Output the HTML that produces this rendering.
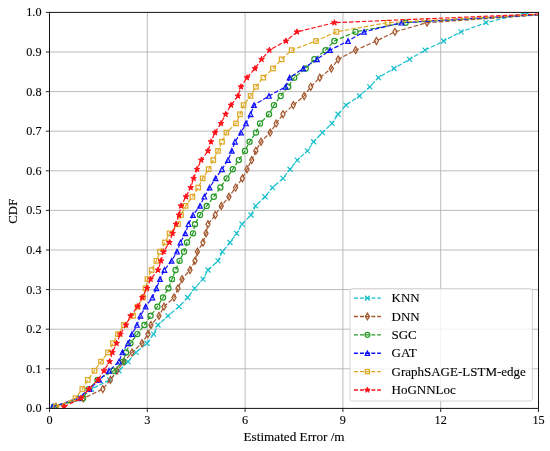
<!DOCTYPE html>
<html><head><meta charset="utf-8"><title>CDF of Estimated Error</title>
<style>html,body{margin:0;padding:0;background:#fff}body{width:550px;height:451px;overflow:hidden}</style>
</head><body>
<svg width="550" height="451" viewBox="0 0 550 451" style="display:block">
<rect x="0" y="0" width="550" height="451" fill="#fff"/>
<defs><clipPath id="ax"><rect x="49.5" y="12.4" width="489.0" height="396.0"/></clipPath></defs>
<path d="M147.30 12.4V408.4M245.10 12.4V408.4M342.90 12.4V408.4M440.70 12.4V408.4M49.5 368.80H538.5M49.5 329.20H538.5M49.5 289.60H538.5M49.5 250.00H538.5M49.5 210.40H538.5M49.5 170.80H538.5M49.5 131.20H538.5M49.5 91.60H538.5M49.5 52.00H538.5" stroke="#b4b4b4" stroke-width="0.9" fill="none"/>
<g clip-path="url(#ax)">
<polyline points="54.00,406.80 81.00,398.24 91.50,389.08 109.60,379.92 119.00,370.76 128.00,361.60 136.00,352.44 147.00,343.28 153.60,334.12 158.00,324.96 168.00,315.80 179.00,306.64 187.60,297.48 194.60,288.32 203.00,279.16 208.00,270.00 218.00,260.84 222.40,251.68 230.00,242.52 236.60,233.36 242.00,224.20 251.00,215.04 255.60,205.88 265.00,196.72 272.50,187.56 283.00,178.40 290.00,169.24 297.30,160.08 307.40,150.92 313.60,141.76 322.40,132.60 332.00,123.44 338.00,114.28 346.00,105.12 359.50,95.96 369.80,86.80 378.40,77.64 394.00,68.48 409.60,59.32 425.00,50.16 443.60,41.00 461.00,31.84 486.00,22.68 527.00,12.50" fill="none" stroke="#14bfcc" stroke-width="1.2" stroke-dasharray="4.5 1.9"/>
<g><path d="M51.50 404.30L56.50 409.30M51.50 409.30L56.50 404.30" stroke="#14bfcc" stroke-width="1.2" fill="none"/><path d="M78.50 395.74L83.50 400.74M78.50 400.74L83.50 395.74" stroke="#14bfcc" stroke-width="1.2" fill="none"/><path d="M89.00 386.58L94.00 391.58M89.00 391.58L94.00 386.58" stroke="#14bfcc" stroke-width="1.2" fill="none"/><path d="M107.10 377.42L112.10 382.42M107.10 382.42L112.10 377.42" stroke="#14bfcc" stroke-width="1.2" fill="none"/><path d="M116.50 368.26L121.50 373.26M116.50 373.26L121.50 368.26" stroke="#14bfcc" stroke-width="1.2" fill="none"/><path d="M125.50 359.10L130.50 364.10M125.50 364.10L130.50 359.10" stroke="#14bfcc" stroke-width="1.2" fill="none"/><path d="M133.50 349.94L138.50 354.94M133.50 354.94L138.50 349.94" stroke="#14bfcc" stroke-width="1.2" fill="none"/><path d="M144.50 340.78L149.50 345.78M144.50 345.78L149.50 340.78" stroke="#14bfcc" stroke-width="1.2" fill="none"/><path d="M151.10 331.62L156.10 336.62M151.10 336.62L156.10 331.62" stroke="#14bfcc" stroke-width="1.2" fill="none"/><path d="M155.50 322.46L160.50 327.46M155.50 327.46L160.50 322.46" stroke="#14bfcc" stroke-width="1.2" fill="none"/><path d="M165.50 313.30L170.50 318.30M165.50 318.30L170.50 313.30" stroke="#14bfcc" stroke-width="1.2" fill="none"/><path d="M176.50 304.14L181.50 309.14M176.50 309.14L181.50 304.14" stroke="#14bfcc" stroke-width="1.2" fill="none"/><path d="M185.10 294.98L190.10 299.98M185.10 299.98L190.10 294.98" stroke="#14bfcc" stroke-width="1.2" fill="none"/><path d="M192.10 285.82L197.10 290.82M192.10 290.82L197.10 285.82" stroke="#14bfcc" stroke-width="1.2" fill="none"/><path d="M200.50 276.66L205.50 281.66M200.50 281.66L205.50 276.66" stroke="#14bfcc" stroke-width="1.2" fill="none"/><path d="M205.50 267.50L210.50 272.50M205.50 272.50L210.50 267.50" stroke="#14bfcc" stroke-width="1.2" fill="none"/><path d="M215.50 258.34L220.50 263.34M215.50 263.34L220.50 258.34" stroke="#14bfcc" stroke-width="1.2" fill="none"/><path d="M219.90 249.18L224.90 254.18M219.90 254.18L224.90 249.18" stroke="#14bfcc" stroke-width="1.2" fill="none"/><path d="M227.50 240.02L232.50 245.02M227.50 245.02L232.50 240.02" stroke="#14bfcc" stroke-width="1.2" fill="none"/><path d="M234.10 230.86L239.10 235.86M234.10 235.86L239.10 230.86" stroke="#14bfcc" stroke-width="1.2" fill="none"/><path d="M239.50 221.70L244.50 226.70M239.50 226.70L244.50 221.70" stroke="#14bfcc" stroke-width="1.2" fill="none"/><path d="M248.50 212.54L253.50 217.54M248.50 217.54L253.50 212.54" stroke="#14bfcc" stroke-width="1.2" fill="none"/><path d="M253.10 203.38L258.10 208.38M253.10 208.38L258.10 203.38" stroke="#14bfcc" stroke-width="1.2" fill="none"/><path d="M262.50 194.22L267.50 199.22M262.50 199.22L267.50 194.22" stroke="#14bfcc" stroke-width="1.2" fill="none"/><path d="M270.00 185.06L275.00 190.06M270.00 190.06L275.00 185.06" stroke="#14bfcc" stroke-width="1.2" fill="none"/><path d="M280.50 175.90L285.50 180.90M280.50 180.90L285.50 175.90" stroke="#14bfcc" stroke-width="1.2" fill="none"/><path d="M287.50 166.74L292.50 171.74M287.50 171.74L292.50 166.74" stroke="#14bfcc" stroke-width="1.2" fill="none"/><path d="M294.80 157.58L299.80 162.58M294.80 162.58L299.80 157.58" stroke="#14bfcc" stroke-width="1.2" fill="none"/><path d="M304.90 148.42L309.90 153.42M304.90 153.42L309.90 148.42" stroke="#14bfcc" stroke-width="1.2" fill="none"/><path d="M311.10 139.26L316.10 144.26M311.10 144.26L316.10 139.26" stroke="#14bfcc" stroke-width="1.2" fill="none"/><path d="M319.90 130.10L324.90 135.10M319.90 135.10L324.90 130.10" stroke="#14bfcc" stroke-width="1.2" fill="none"/><path d="M329.50 120.94L334.50 125.94M329.50 125.94L334.50 120.94" stroke="#14bfcc" stroke-width="1.2" fill="none"/><path d="M335.50 111.78L340.50 116.78M335.50 116.78L340.50 111.78" stroke="#14bfcc" stroke-width="1.2" fill="none"/><path d="M343.50 102.62L348.50 107.62M343.50 107.62L348.50 102.62" stroke="#14bfcc" stroke-width="1.2" fill="none"/><path d="M357.00 93.46L362.00 98.46M357.00 98.46L362.00 93.46" stroke="#14bfcc" stroke-width="1.2" fill="none"/><path d="M367.30 84.30L372.30 89.30M367.30 89.30L372.30 84.30" stroke="#14bfcc" stroke-width="1.2" fill="none"/><path d="M375.90 75.14L380.90 80.14M375.90 80.14L380.90 75.14" stroke="#14bfcc" stroke-width="1.2" fill="none"/><path d="M391.50 65.98L396.50 70.98M391.50 70.98L396.50 65.98" stroke="#14bfcc" stroke-width="1.2" fill="none"/><path d="M407.10 56.82L412.10 61.82M407.10 61.82L412.10 56.82" stroke="#14bfcc" stroke-width="1.2" fill="none"/><path d="M422.50 47.66L427.50 52.66M422.50 52.66L427.50 47.66" stroke="#14bfcc" stroke-width="1.2" fill="none"/><path d="M441.10 38.50L446.10 43.50M441.10 43.50L446.10 38.50" stroke="#14bfcc" stroke-width="1.2" fill="none"/><path d="M458.50 29.34L463.50 34.34M458.50 34.34L463.50 29.34" stroke="#14bfcc" stroke-width="1.2" fill="none"/><path d="M483.50 20.18L488.50 25.18M483.50 25.18L488.50 20.18" stroke="#14bfcc" stroke-width="1.2" fill="none"/><path d="M524.50 10.00L529.50 15.00M524.50 15.00L529.50 10.00" stroke="#14bfcc" stroke-width="1.2" fill="none"/></g>
<polyline points="56.00,406.80 83.50,398.24 102.80,389.08 110.40,379.92 117.00,370.76 124.00,361.60 132.00,352.44 142.00,343.28 148.00,334.12 151.00,324.96 159.00,315.80 164.00,306.64 174.00,297.48 178.00,288.32 182.00,279.16 190.00,270.00 195.00,260.84 197.40,251.68 203.00,242.52 206.00,233.36 208.00,224.20 215.30,215.04 221.30,205.88 229.00,196.72 235.60,187.56 242.40,178.40 247.00,169.24 251.70,160.08 255.80,150.92 261.00,141.76 270.20,132.60 276.20,123.44 283.00,114.28 293.30,105.12 304.20,95.96 310.70,86.80 319.80,77.64 331.30,68.48 338.20,59.32 355.60,50.16 376.40,41.00 395.00,31.84 427.00,22.68 575.00,12.50" fill="none" stroke="#a3562c" stroke-width="1.2" stroke-dasharray="4.5 1.9"/>
<g><path d="M56.00 403.30L58.10 406.80L56.00 410.30L53.90 406.80Z" stroke="#a3562c" stroke-width="1.2" fill="none" stroke-linejoin="miter"/><path d="M83.50 394.74L85.60 398.24L83.50 401.74L81.40 398.24Z" stroke="#a3562c" stroke-width="1.2" fill="none" stroke-linejoin="miter"/><path d="M102.80 385.58L104.90 389.08L102.80 392.58L100.70 389.08Z" stroke="#a3562c" stroke-width="1.2" fill="none" stroke-linejoin="miter"/><path d="M110.40 376.42L112.50 379.92L110.40 383.42L108.30 379.92Z" stroke="#a3562c" stroke-width="1.2" fill="none" stroke-linejoin="miter"/><path d="M117.00 367.26L119.10 370.76L117.00 374.26L114.90 370.76Z" stroke="#a3562c" stroke-width="1.2" fill="none" stroke-linejoin="miter"/><path d="M124.00 358.10L126.10 361.60L124.00 365.10L121.90 361.60Z" stroke="#a3562c" stroke-width="1.2" fill="none" stroke-linejoin="miter"/><path d="M132.00 348.94L134.10 352.44L132.00 355.94L129.90 352.44Z" stroke="#a3562c" stroke-width="1.2" fill="none" stroke-linejoin="miter"/><path d="M142.00 339.78L144.10 343.28L142.00 346.78L139.90 343.28Z" stroke="#a3562c" stroke-width="1.2" fill="none" stroke-linejoin="miter"/><path d="M148.00 330.62L150.10 334.12L148.00 337.62L145.90 334.12Z" stroke="#a3562c" stroke-width="1.2" fill="none" stroke-linejoin="miter"/><path d="M151.00 321.46L153.10 324.96L151.00 328.46L148.90 324.96Z" stroke="#a3562c" stroke-width="1.2" fill="none" stroke-linejoin="miter"/><path d="M159.00 312.30L161.10 315.80L159.00 319.30L156.90 315.80Z" stroke="#a3562c" stroke-width="1.2" fill="none" stroke-linejoin="miter"/><path d="M164.00 303.14L166.10 306.64L164.00 310.14L161.90 306.64Z" stroke="#a3562c" stroke-width="1.2" fill="none" stroke-linejoin="miter"/><path d="M174.00 293.98L176.10 297.48L174.00 300.98L171.90 297.48Z" stroke="#a3562c" stroke-width="1.2" fill="none" stroke-linejoin="miter"/><path d="M178.00 284.82L180.10 288.32L178.00 291.82L175.90 288.32Z" stroke="#a3562c" stroke-width="1.2" fill="none" stroke-linejoin="miter"/><path d="M182.00 275.66L184.10 279.16L182.00 282.66L179.90 279.16Z" stroke="#a3562c" stroke-width="1.2" fill="none" stroke-linejoin="miter"/><path d="M190.00 266.50L192.10 270.00L190.00 273.50L187.90 270.00Z" stroke="#a3562c" stroke-width="1.2" fill="none" stroke-linejoin="miter"/><path d="M195.00 257.34L197.10 260.84L195.00 264.34L192.90 260.84Z" stroke="#a3562c" stroke-width="1.2" fill="none" stroke-linejoin="miter"/><path d="M197.40 248.18L199.50 251.68L197.40 255.18L195.30 251.68Z" stroke="#a3562c" stroke-width="1.2" fill="none" stroke-linejoin="miter"/><path d="M203.00 239.02L205.10 242.52L203.00 246.02L200.90 242.52Z" stroke="#a3562c" stroke-width="1.2" fill="none" stroke-linejoin="miter"/><path d="M206.00 229.86L208.10 233.36L206.00 236.86L203.90 233.36Z" stroke="#a3562c" stroke-width="1.2" fill="none" stroke-linejoin="miter"/><path d="M208.00 220.70L210.10 224.20L208.00 227.70L205.90 224.20Z" stroke="#a3562c" stroke-width="1.2" fill="none" stroke-linejoin="miter"/><path d="M215.30 211.54L217.40 215.04L215.30 218.54L213.20 215.04Z" stroke="#a3562c" stroke-width="1.2" fill="none" stroke-linejoin="miter"/><path d="M221.30 202.38L223.40 205.88L221.30 209.38L219.20 205.88Z" stroke="#a3562c" stroke-width="1.2" fill="none" stroke-linejoin="miter"/><path d="M229.00 193.22L231.10 196.72L229.00 200.22L226.90 196.72Z" stroke="#a3562c" stroke-width="1.2" fill="none" stroke-linejoin="miter"/><path d="M235.60 184.06L237.70 187.56L235.60 191.06L233.50 187.56Z" stroke="#a3562c" stroke-width="1.2" fill="none" stroke-linejoin="miter"/><path d="M242.40 174.90L244.50 178.40L242.40 181.90L240.30 178.40Z" stroke="#a3562c" stroke-width="1.2" fill="none" stroke-linejoin="miter"/><path d="M247.00 165.74L249.10 169.24L247.00 172.74L244.90 169.24Z" stroke="#a3562c" stroke-width="1.2" fill="none" stroke-linejoin="miter"/><path d="M251.70 156.58L253.80 160.08L251.70 163.58L249.60 160.08Z" stroke="#a3562c" stroke-width="1.2" fill="none" stroke-linejoin="miter"/><path d="M255.80 147.42L257.90 150.92L255.80 154.42L253.70 150.92Z" stroke="#a3562c" stroke-width="1.2" fill="none" stroke-linejoin="miter"/><path d="M261.00 138.26L263.10 141.76L261.00 145.26L258.90 141.76Z" stroke="#a3562c" stroke-width="1.2" fill="none" stroke-linejoin="miter"/><path d="M270.20 129.10L272.30 132.60L270.20 136.10L268.10 132.60Z" stroke="#a3562c" stroke-width="1.2" fill="none" stroke-linejoin="miter"/><path d="M276.20 119.94L278.30 123.44L276.20 126.94L274.10 123.44Z" stroke="#a3562c" stroke-width="1.2" fill="none" stroke-linejoin="miter"/><path d="M283.00 110.78L285.10 114.28L283.00 117.78L280.90 114.28Z" stroke="#a3562c" stroke-width="1.2" fill="none" stroke-linejoin="miter"/><path d="M293.30 101.62L295.40 105.12L293.30 108.62L291.20 105.12Z" stroke="#a3562c" stroke-width="1.2" fill="none" stroke-linejoin="miter"/><path d="M304.20 92.46L306.30 95.96L304.20 99.46L302.10 95.96Z" stroke="#a3562c" stroke-width="1.2" fill="none" stroke-linejoin="miter"/><path d="M310.70 83.30L312.80 86.80L310.70 90.30L308.60 86.80Z" stroke="#a3562c" stroke-width="1.2" fill="none" stroke-linejoin="miter"/><path d="M319.80 74.14L321.90 77.64L319.80 81.14L317.70 77.64Z" stroke="#a3562c" stroke-width="1.2" fill="none" stroke-linejoin="miter"/><path d="M331.30 64.98L333.40 68.48L331.30 71.98L329.20 68.48Z" stroke="#a3562c" stroke-width="1.2" fill="none" stroke-linejoin="miter"/><path d="M338.20 55.82L340.30 59.32L338.20 62.82L336.10 59.32Z" stroke="#a3562c" stroke-width="1.2" fill="none" stroke-linejoin="miter"/><path d="M355.60 46.66L357.70 50.16L355.60 53.66L353.50 50.16Z" stroke="#a3562c" stroke-width="1.2" fill="none" stroke-linejoin="miter"/><path d="M376.40 37.50L378.50 41.00L376.40 44.50L374.30 41.00Z" stroke="#a3562c" stroke-width="1.2" fill="none" stroke-linejoin="miter"/><path d="M395.00 28.34L397.10 31.84L395.00 35.34L392.90 31.84Z" stroke="#a3562c" stroke-width="1.2" fill="none" stroke-linejoin="miter"/><path d="M427.00 19.18L429.10 22.68L427.00 26.18L424.90 22.68Z" stroke="#a3562c" stroke-width="1.2" fill="none" stroke-linejoin="miter"/></g>
<polyline points="54.00,406.80 83.00,398.24 88.50,389.08 97.50,379.92 113.60,370.76 123.00,361.60 126.00,352.44 130.40,343.28 137.40,334.12 144.40,324.96 150.60,315.80 157.40,306.64 163.00,297.48 168.40,288.32 172.00,279.16 175.60,270.00 179.60,260.84 184.00,251.68 187.00,242.52 193.00,233.36 195.00,224.20 200.00,215.04 206.70,205.88 213.80,196.72 220.40,187.56 226.60,178.40 232.80,169.24 238.80,160.08 245.00,150.92 249.60,141.76 256.00,132.60 260.00,123.44 269.00,114.28 274.00,105.12 280.70,95.96 288.20,86.80 294.20,77.64 305.80,68.48 314.40,59.32 325.60,50.16 334.40,41.00 355.60,31.84 405.60,22.68 575.00,12.50" fill="none" stroke="#259a25" stroke-width="1.2" stroke-dasharray="4.5 1.9"/>
<g><circle cx="54.00" cy="406.80" r="2.60" stroke="#259a25" stroke-width="1.2" fill="none"/><circle cx="83.00" cy="398.24" r="2.60" stroke="#259a25" stroke-width="1.2" fill="none"/><circle cx="88.50" cy="389.08" r="2.60" stroke="#259a25" stroke-width="1.2" fill="none"/><circle cx="97.50" cy="379.92" r="2.60" stroke="#259a25" stroke-width="1.2" fill="none"/><circle cx="113.60" cy="370.76" r="2.60" stroke="#259a25" stroke-width="1.2" fill="none"/><circle cx="123.00" cy="361.60" r="2.60" stroke="#259a25" stroke-width="1.2" fill="none"/><circle cx="126.00" cy="352.44" r="2.60" stroke="#259a25" stroke-width="1.2" fill="none"/><circle cx="130.40" cy="343.28" r="2.60" stroke="#259a25" stroke-width="1.2" fill="none"/><circle cx="137.40" cy="334.12" r="2.60" stroke="#259a25" stroke-width="1.2" fill="none"/><circle cx="144.40" cy="324.96" r="2.60" stroke="#259a25" stroke-width="1.2" fill="none"/><circle cx="150.60" cy="315.80" r="2.60" stroke="#259a25" stroke-width="1.2" fill="none"/><circle cx="157.40" cy="306.64" r="2.60" stroke="#259a25" stroke-width="1.2" fill="none"/><circle cx="163.00" cy="297.48" r="2.60" stroke="#259a25" stroke-width="1.2" fill="none"/><circle cx="168.40" cy="288.32" r="2.60" stroke="#259a25" stroke-width="1.2" fill="none"/><circle cx="172.00" cy="279.16" r="2.60" stroke="#259a25" stroke-width="1.2" fill="none"/><circle cx="175.60" cy="270.00" r="2.60" stroke="#259a25" stroke-width="1.2" fill="none"/><circle cx="179.60" cy="260.84" r="2.60" stroke="#259a25" stroke-width="1.2" fill="none"/><circle cx="184.00" cy="251.68" r="2.60" stroke="#259a25" stroke-width="1.2" fill="none"/><circle cx="187.00" cy="242.52" r="2.60" stroke="#259a25" stroke-width="1.2" fill="none"/><circle cx="193.00" cy="233.36" r="2.60" stroke="#259a25" stroke-width="1.2" fill="none"/><circle cx="195.00" cy="224.20" r="2.60" stroke="#259a25" stroke-width="1.2" fill="none"/><circle cx="200.00" cy="215.04" r="2.60" stroke="#259a25" stroke-width="1.2" fill="none"/><circle cx="206.70" cy="205.88" r="2.60" stroke="#259a25" stroke-width="1.2" fill="none"/><circle cx="213.80" cy="196.72" r="2.60" stroke="#259a25" stroke-width="1.2" fill="none"/><circle cx="220.40" cy="187.56" r="2.60" stroke="#259a25" stroke-width="1.2" fill="none"/><circle cx="226.60" cy="178.40" r="2.60" stroke="#259a25" stroke-width="1.2" fill="none"/><circle cx="232.80" cy="169.24" r="2.60" stroke="#259a25" stroke-width="1.2" fill="none"/><circle cx="238.80" cy="160.08" r="2.60" stroke="#259a25" stroke-width="1.2" fill="none"/><circle cx="245.00" cy="150.92" r="2.60" stroke="#259a25" stroke-width="1.2" fill="none"/><circle cx="249.60" cy="141.76" r="2.60" stroke="#259a25" stroke-width="1.2" fill="none"/><circle cx="256.00" cy="132.60" r="2.60" stroke="#259a25" stroke-width="1.2" fill="none"/><circle cx="260.00" cy="123.44" r="2.60" stroke="#259a25" stroke-width="1.2" fill="none"/><circle cx="269.00" cy="114.28" r="2.60" stroke="#259a25" stroke-width="1.2" fill="none"/><circle cx="274.00" cy="105.12" r="2.60" stroke="#259a25" stroke-width="1.2" fill="none"/><circle cx="280.70" cy="95.96" r="2.60" stroke="#259a25" stroke-width="1.2" fill="none"/><circle cx="288.20" cy="86.80" r="2.60" stroke="#259a25" stroke-width="1.2" fill="none"/><circle cx="294.20" cy="77.64" r="2.60" stroke="#259a25" stroke-width="1.2" fill="none"/><circle cx="305.80" cy="68.48" r="2.60" stroke="#259a25" stroke-width="1.2" fill="none"/><circle cx="314.40" cy="59.32" r="2.60" stroke="#259a25" stroke-width="1.2" fill="none"/><circle cx="325.60" cy="50.16" r="2.60" stroke="#259a25" stroke-width="1.2" fill="none"/><circle cx="334.40" cy="41.00" r="2.60" stroke="#259a25" stroke-width="1.2" fill="none"/><circle cx="355.60" cy="31.84" r="2.60" stroke="#259a25" stroke-width="1.2" fill="none"/><circle cx="405.60" cy="22.68" r="2.60" stroke="#259a25" stroke-width="1.2" fill="none"/></g>
<polyline points="52.50,406.80 78.00,398.24 89.50,389.08 99.30,379.92 109.00,370.76 119.00,361.60 122.40,352.44 128.00,343.28 132.00,334.12 137.00,324.96 140.40,315.80 145.60,306.64 152.40,297.48 156.40,288.32 160.00,279.16 164.40,270.00 171.60,260.84 177.00,251.68 180.40,242.52 185.30,233.36 188.50,224.20 193.00,215.04 200.00,205.88 204.40,196.72 209.60,187.56 215.60,178.40 222.00,169.24 228.00,160.08 231.80,150.92 235.00,141.76 241.00,132.60 246.00,123.44 250.60,114.28 254.00,105.12 269.00,95.96 285.60,86.80 289.60,77.64 303.30,68.48 317.00,59.32 330.00,50.16 348.00,41.00 364.00,31.84 401.60,22.68 575.00,12.50" fill="none" stroke="#1010ff" stroke-width="1.2" stroke-dasharray="4.5 1.9"/>
<g><path d="M52.50 404.50L54.80 409.10L50.20 409.10Z" stroke="#1010ff" stroke-width="1.2" fill="none"/><path d="M78.00 395.94L80.30 400.54L75.70 400.54Z" stroke="#1010ff" stroke-width="1.2" fill="none"/><path d="M89.50 386.78L91.80 391.38L87.20 391.38Z" stroke="#1010ff" stroke-width="1.2" fill="none"/><path d="M99.30 377.62L101.60 382.22L97.00 382.22Z" stroke="#1010ff" stroke-width="1.2" fill="none"/><path d="M109.00 368.46L111.30 373.06L106.70 373.06Z" stroke="#1010ff" stroke-width="1.2" fill="none"/><path d="M119.00 359.30L121.30 363.90L116.70 363.90Z" stroke="#1010ff" stroke-width="1.2" fill="none"/><path d="M122.40 350.14L124.70 354.74L120.10 354.74Z" stroke="#1010ff" stroke-width="1.2" fill="none"/><path d="M128.00 340.98L130.30 345.58L125.70 345.58Z" stroke="#1010ff" stroke-width="1.2" fill="none"/><path d="M132.00 331.82L134.30 336.42L129.70 336.42Z" stroke="#1010ff" stroke-width="1.2" fill="none"/><path d="M137.00 322.66L139.30 327.26L134.70 327.26Z" stroke="#1010ff" stroke-width="1.2" fill="none"/><path d="M140.40 313.50L142.70 318.10L138.10 318.10Z" stroke="#1010ff" stroke-width="1.2" fill="none"/><path d="M145.60 304.34L147.90 308.94L143.30 308.94Z" stroke="#1010ff" stroke-width="1.2" fill="none"/><path d="M152.40 295.18L154.70 299.78L150.10 299.78Z" stroke="#1010ff" stroke-width="1.2" fill="none"/><path d="M156.40 286.02L158.70 290.62L154.10 290.62Z" stroke="#1010ff" stroke-width="1.2" fill="none"/><path d="M160.00 276.86L162.30 281.46L157.70 281.46Z" stroke="#1010ff" stroke-width="1.2" fill="none"/><path d="M164.40 267.70L166.70 272.30L162.10 272.30Z" stroke="#1010ff" stroke-width="1.2" fill="none"/><path d="M171.60 258.54L173.90 263.14L169.30 263.14Z" stroke="#1010ff" stroke-width="1.2" fill="none"/><path d="M177.00 249.38L179.30 253.98L174.70 253.98Z" stroke="#1010ff" stroke-width="1.2" fill="none"/><path d="M180.40 240.22L182.70 244.82L178.10 244.82Z" stroke="#1010ff" stroke-width="1.2" fill="none"/><path d="M185.30 231.06L187.60 235.66L183.00 235.66Z" stroke="#1010ff" stroke-width="1.2" fill="none"/><path d="M188.50 221.90L190.80 226.50L186.20 226.50Z" stroke="#1010ff" stroke-width="1.2" fill="none"/><path d="M193.00 212.74L195.30 217.34L190.70 217.34Z" stroke="#1010ff" stroke-width="1.2" fill="none"/><path d="M200.00 203.58L202.30 208.18L197.70 208.18Z" stroke="#1010ff" stroke-width="1.2" fill="none"/><path d="M204.40 194.42L206.70 199.02L202.10 199.02Z" stroke="#1010ff" stroke-width="1.2" fill="none"/><path d="M209.60 185.26L211.90 189.86L207.30 189.86Z" stroke="#1010ff" stroke-width="1.2" fill="none"/><path d="M215.60 176.10L217.90 180.70L213.30 180.70Z" stroke="#1010ff" stroke-width="1.2" fill="none"/><path d="M222.00 166.94L224.30 171.54L219.70 171.54Z" stroke="#1010ff" stroke-width="1.2" fill="none"/><path d="M228.00 157.78L230.30 162.38L225.70 162.38Z" stroke="#1010ff" stroke-width="1.2" fill="none"/><path d="M231.80 148.62L234.10 153.22L229.50 153.22Z" stroke="#1010ff" stroke-width="1.2" fill="none"/><path d="M235.00 139.46L237.30 144.06L232.70 144.06Z" stroke="#1010ff" stroke-width="1.2" fill="none"/><path d="M241.00 130.30L243.30 134.90L238.70 134.90Z" stroke="#1010ff" stroke-width="1.2" fill="none"/><path d="M246.00 121.14L248.30 125.74L243.70 125.74Z" stroke="#1010ff" stroke-width="1.2" fill="none"/><path d="M250.60 111.98L252.90 116.58L248.30 116.58Z" stroke="#1010ff" stroke-width="1.2" fill="none"/><path d="M254.00 102.82L256.30 107.42L251.70 107.42Z" stroke="#1010ff" stroke-width="1.2" fill="none"/><path d="M269.00 93.66L271.30 98.26L266.70 98.26Z" stroke="#1010ff" stroke-width="1.2" fill="none"/><path d="M285.60 84.50L287.90 89.10L283.30 89.10Z" stroke="#1010ff" stroke-width="1.2" fill="none"/><path d="M289.60 75.34L291.90 79.94L287.30 79.94Z" stroke="#1010ff" stroke-width="1.2" fill="none"/><path d="M303.30 66.18L305.60 70.78L301.00 70.78Z" stroke="#1010ff" stroke-width="1.2" fill="none"/><path d="M317.00 57.02L319.30 61.62L314.70 61.62Z" stroke="#1010ff" stroke-width="1.2" fill="none"/><path d="M330.00 47.86L332.30 52.46L327.70 52.46Z" stroke="#1010ff" stroke-width="1.2" fill="none"/><path d="M348.00 38.70L350.30 43.30L345.70 43.30Z" stroke="#1010ff" stroke-width="1.2" fill="none"/><path d="M364.00 29.54L366.30 34.14L361.70 34.14Z" stroke="#1010ff" stroke-width="1.2" fill="none"/><path d="M401.60 20.38L403.90 24.98L399.30 24.98Z" stroke="#1010ff" stroke-width="1.2" fill="none"/></g>
<polyline points="56.00,406.80 75.50,398.24 82.30,389.08 87.80,379.92 94.50,370.76 101.00,361.60 108.00,352.44 113.00,343.28 118.00,334.12 124.00,324.96 133.00,315.80 137.60,306.64 143.00,297.48 145.60,288.32 147.40,279.16 151.60,270.00 156.40,260.84 160.00,251.68 165.00,242.52 169.50,233.36 178.00,224.20 181.00,215.04 185.60,205.88 192.40,196.72 198.20,187.56 202.70,178.40 208.70,169.24 213.30,160.08 218.00,150.92 222.00,141.76 226.40,132.60 236.00,123.44 240.00,114.28 243.60,105.12 250.60,95.96 256.00,86.80 263.30,77.64 273.00,68.48 281.60,59.32 291.60,50.16 316.00,41.00 336.40,31.84 387.60,22.68 575.00,12.50" fill="none" stroke="#dda722" stroke-width="1.2" stroke-dasharray="4.5 1.9"/>
<g><rect x="53.75" y="404.55" width="4.50" height="4.50" stroke="#dda722" stroke-width="1.2" fill="none"/><rect x="73.25" y="395.99" width="4.50" height="4.50" stroke="#dda722" stroke-width="1.2" fill="none"/><rect x="80.05" y="386.83" width="4.50" height="4.50" stroke="#dda722" stroke-width="1.2" fill="none"/><rect x="85.55" y="377.67" width="4.50" height="4.50" stroke="#dda722" stroke-width="1.2" fill="none"/><rect x="92.25" y="368.51" width="4.50" height="4.50" stroke="#dda722" stroke-width="1.2" fill="none"/><rect x="98.75" y="359.35" width="4.50" height="4.50" stroke="#dda722" stroke-width="1.2" fill="none"/><rect x="105.75" y="350.19" width="4.50" height="4.50" stroke="#dda722" stroke-width="1.2" fill="none"/><rect x="110.75" y="341.03" width="4.50" height="4.50" stroke="#dda722" stroke-width="1.2" fill="none"/><rect x="115.75" y="331.87" width="4.50" height="4.50" stroke="#dda722" stroke-width="1.2" fill="none"/><rect x="121.75" y="322.71" width="4.50" height="4.50" stroke="#dda722" stroke-width="1.2" fill="none"/><rect x="130.75" y="313.55" width="4.50" height="4.50" stroke="#dda722" stroke-width="1.2" fill="none"/><rect x="135.35" y="304.39" width="4.50" height="4.50" stroke="#dda722" stroke-width="1.2" fill="none"/><rect x="140.75" y="295.23" width="4.50" height="4.50" stroke="#dda722" stroke-width="1.2" fill="none"/><rect x="143.35" y="286.07" width="4.50" height="4.50" stroke="#dda722" stroke-width="1.2" fill="none"/><rect x="145.15" y="276.91" width="4.50" height="4.50" stroke="#dda722" stroke-width="1.2" fill="none"/><rect x="149.35" y="267.75" width="4.50" height="4.50" stroke="#dda722" stroke-width="1.2" fill="none"/><rect x="154.15" y="258.59" width="4.50" height="4.50" stroke="#dda722" stroke-width="1.2" fill="none"/><rect x="157.75" y="249.43" width="4.50" height="4.50" stroke="#dda722" stroke-width="1.2" fill="none"/><rect x="162.75" y="240.27" width="4.50" height="4.50" stroke="#dda722" stroke-width="1.2" fill="none"/><rect x="167.25" y="231.11" width="4.50" height="4.50" stroke="#dda722" stroke-width="1.2" fill="none"/><rect x="175.75" y="221.95" width="4.50" height="4.50" stroke="#dda722" stroke-width="1.2" fill="none"/><rect x="178.75" y="212.79" width="4.50" height="4.50" stroke="#dda722" stroke-width="1.2" fill="none"/><rect x="183.35" y="203.63" width="4.50" height="4.50" stroke="#dda722" stroke-width="1.2" fill="none"/><rect x="190.15" y="194.47" width="4.50" height="4.50" stroke="#dda722" stroke-width="1.2" fill="none"/><rect x="195.95" y="185.31" width="4.50" height="4.50" stroke="#dda722" stroke-width="1.2" fill="none"/><rect x="200.45" y="176.15" width="4.50" height="4.50" stroke="#dda722" stroke-width="1.2" fill="none"/><rect x="206.45" y="166.99" width="4.50" height="4.50" stroke="#dda722" stroke-width="1.2" fill="none"/><rect x="211.05" y="157.83" width="4.50" height="4.50" stroke="#dda722" stroke-width="1.2" fill="none"/><rect x="215.75" y="148.67" width="4.50" height="4.50" stroke="#dda722" stroke-width="1.2" fill="none"/><rect x="219.75" y="139.51" width="4.50" height="4.50" stroke="#dda722" stroke-width="1.2" fill="none"/><rect x="224.15" y="130.35" width="4.50" height="4.50" stroke="#dda722" stroke-width="1.2" fill="none"/><rect x="233.75" y="121.19" width="4.50" height="4.50" stroke="#dda722" stroke-width="1.2" fill="none"/><rect x="237.75" y="112.03" width="4.50" height="4.50" stroke="#dda722" stroke-width="1.2" fill="none"/><rect x="241.35" y="102.87" width="4.50" height="4.50" stroke="#dda722" stroke-width="1.2" fill="none"/><rect x="248.35" y="93.71" width="4.50" height="4.50" stroke="#dda722" stroke-width="1.2" fill="none"/><rect x="253.75" y="84.55" width="4.50" height="4.50" stroke="#dda722" stroke-width="1.2" fill="none"/><rect x="261.05" y="75.39" width="4.50" height="4.50" stroke="#dda722" stroke-width="1.2" fill="none"/><rect x="270.75" y="66.23" width="4.50" height="4.50" stroke="#dda722" stroke-width="1.2" fill="none"/><rect x="279.35" y="57.07" width="4.50" height="4.50" stroke="#dda722" stroke-width="1.2" fill="none"/><rect x="289.35" y="47.91" width="4.50" height="4.50" stroke="#dda722" stroke-width="1.2" fill="none"/><rect x="313.75" y="38.75" width="4.50" height="4.50" stroke="#dda722" stroke-width="1.2" fill="none"/><rect x="334.15" y="29.59" width="4.50" height="4.50" stroke="#dda722" stroke-width="1.2" fill="none"/><rect x="385.35" y="20.43" width="4.50" height="4.50" stroke="#dda722" stroke-width="1.2" fill="none"/></g>
<polyline points="64.00,406.80 81.00,398.24 88.80,389.08 98.00,379.92 104.00,370.76 109.60,361.60 112.40,352.44 116.60,343.28 120.40,334.12 126.00,324.96 130.60,315.80 137.60,306.64 142.40,297.48 147.00,288.32 150.60,279.16 158.00,270.00 161.00,260.84 163.60,251.68 169.40,242.52 172.60,233.36 176.00,224.20 179.00,215.04 181.00,205.88 186.00,196.72 190.70,187.56 193.60,178.40 197.00,169.24 201.30,160.08 208.00,150.92 211.00,141.76 215.00,132.60 221.00,123.44 225.60,114.28 231.00,105.12 238.00,95.96 241.00,86.80 247.00,77.64 255.00,68.48 261.60,59.32 269.40,50.16 286.00,41.00 297.00,31.84 334.40,22.68 575.00,12.50" fill="none" stroke="#ff1018" stroke-width="1.2" stroke-dasharray="4.5 1.9"/>
<g><polygon points="64.00,403.80 64.67,405.87 66.85,405.87 65.09,407.15 65.76,409.23 64.00,407.95 62.24,409.23 62.91,407.15 61.15,405.87 63.33,405.87" fill="#ff1018" stroke="#ff1018" stroke-width="0.96"/><polygon points="81.00,395.24 81.67,397.31 83.85,397.31 82.09,398.59 82.76,400.67 81.00,399.39 79.24,400.67 79.91,398.59 78.15,397.31 80.33,397.31" fill="#ff1018" stroke="#ff1018" stroke-width="0.96"/><polygon points="88.80,386.08 89.47,388.15 91.65,388.15 89.89,389.43 90.56,391.51 88.80,390.23 87.04,391.51 87.71,389.43 85.95,388.15 88.13,388.15" fill="#ff1018" stroke="#ff1018" stroke-width="0.96"/><polygon points="98.00,376.92 98.67,378.99 100.85,378.99 99.09,380.27 99.76,382.35 98.00,381.07 96.24,382.35 96.91,380.27 95.15,378.99 97.33,378.99" fill="#ff1018" stroke="#ff1018" stroke-width="0.96"/><polygon points="104.00,367.76 104.67,369.83 106.85,369.83 105.09,371.11 105.76,373.19 104.00,371.91 102.24,373.19 102.91,371.11 101.15,369.83 103.33,369.83" fill="#ff1018" stroke="#ff1018" stroke-width="0.96"/><polygon points="109.60,358.60 110.27,360.67 112.45,360.67 110.69,361.95 111.36,364.03 109.60,362.75 107.84,364.03 108.51,361.95 106.75,360.67 108.93,360.67" fill="#ff1018" stroke="#ff1018" stroke-width="0.96"/><polygon points="112.40,349.44 113.07,351.51 115.25,351.51 113.49,352.79 114.16,354.87 112.40,353.59 110.64,354.87 111.31,352.79 109.55,351.51 111.73,351.51" fill="#ff1018" stroke="#ff1018" stroke-width="0.96"/><polygon points="116.60,340.28 117.27,342.35 119.45,342.35 117.69,343.63 118.36,345.71 116.60,344.43 114.84,345.71 115.51,343.63 113.75,342.35 115.93,342.35" fill="#ff1018" stroke="#ff1018" stroke-width="0.96"/><polygon points="120.40,331.12 121.07,333.19 123.25,333.19 121.49,334.47 122.16,336.55 120.40,335.27 118.64,336.55 119.31,334.47 117.55,333.19 119.73,333.19" fill="#ff1018" stroke="#ff1018" stroke-width="0.96"/><polygon points="126.00,321.96 126.67,324.03 128.85,324.03 127.09,325.31 127.76,327.39 126.00,326.11 124.24,327.39 124.91,325.31 123.15,324.03 125.33,324.03" fill="#ff1018" stroke="#ff1018" stroke-width="0.96"/><polygon points="130.60,312.80 131.27,314.87 133.45,314.87 131.69,316.15 132.36,318.23 130.60,316.95 128.84,318.23 129.51,316.15 127.75,314.87 129.93,314.87" fill="#ff1018" stroke="#ff1018" stroke-width="0.96"/><polygon points="137.60,303.64 138.27,305.71 140.45,305.71 138.69,306.99 139.36,309.07 137.60,307.79 135.84,309.07 136.51,306.99 134.75,305.71 136.93,305.71" fill="#ff1018" stroke="#ff1018" stroke-width="0.96"/><polygon points="142.40,294.48 143.07,296.55 145.25,296.55 143.49,297.83 144.16,299.91 142.40,298.63 140.64,299.91 141.31,297.83 139.55,296.55 141.73,296.55" fill="#ff1018" stroke="#ff1018" stroke-width="0.96"/><polygon points="147.00,285.32 147.67,287.39 149.85,287.39 148.09,288.67 148.76,290.75 147.00,289.47 145.24,290.75 145.91,288.67 144.15,287.39 146.33,287.39" fill="#ff1018" stroke="#ff1018" stroke-width="0.96"/><polygon points="150.60,276.16 151.27,278.23 153.45,278.23 151.69,279.51 152.36,281.59 150.60,280.31 148.84,281.59 149.51,279.51 147.75,278.23 149.93,278.23" fill="#ff1018" stroke="#ff1018" stroke-width="0.96"/><polygon points="158.00,267.00 158.67,269.07 160.85,269.07 159.09,270.35 159.76,272.43 158.00,271.15 156.24,272.43 156.91,270.35 155.15,269.07 157.33,269.07" fill="#ff1018" stroke="#ff1018" stroke-width="0.96"/><polygon points="161.00,257.84 161.67,259.91 163.85,259.91 162.09,261.19 162.76,263.27 161.00,261.99 159.24,263.27 159.91,261.19 158.15,259.91 160.33,259.91" fill="#ff1018" stroke="#ff1018" stroke-width="0.96"/><polygon points="163.60,248.68 164.27,250.75 166.45,250.75 164.69,252.03 165.36,254.11 163.60,252.83 161.84,254.11 162.51,252.03 160.75,250.75 162.93,250.75" fill="#ff1018" stroke="#ff1018" stroke-width="0.96"/><polygon points="169.40,239.52 170.07,241.59 172.25,241.59 170.49,242.87 171.16,244.95 169.40,243.67 167.64,244.95 168.31,242.87 166.55,241.59 168.73,241.59" fill="#ff1018" stroke="#ff1018" stroke-width="0.96"/><polygon points="172.60,230.36 173.27,232.43 175.45,232.43 173.69,233.71 174.36,235.79 172.60,234.51 170.84,235.79 171.51,233.71 169.75,232.43 171.93,232.43" fill="#ff1018" stroke="#ff1018" stroke-width="0.96"/><polygon points="176.00,221.20 176.67,223.27 178.85,223.27 177.09,224.55 177.76,226.63 176.00,225.35 174.24,226.63 174.91,224.55 173.15,223.27 175.33,223.27" fill="#ff1018" stroke="#ff1018" stroke-width="0.96"/><polygon points="179.00,212.04 179.67,214.11 181.85,214.11 180.09,215.39 180.76,217.47 179.00,216.19 177.24,217.47 177.91,215.39 176.15,214.11 178.33,214.11" fill="#ff1018" stroke="#ff1018" stroke-width="0.96"/><polygon points="181.00,202.88 181.67,204.95 183.85,204.95 182.09,206.23 182.76,208.31 181.00,207.03 179.24,208.31 179.91,206.23 178.15,204.95 180.33,204.95" fill="#ff1018" stroke="#ff1018" stroke-width="0.96"/><polygon points="186.00,193.72 186.67,195.79 188.85,195.79 187.09,197.07 187.76,199.15 186.00,197.87 184.24,199.15 184.91,197.07 183.15,195.79 185.33,195.79" fill="#ff1018" stroke="#ff1018" stroke-width="0.96"/><polygon points="190.70,184.56 191.37,186.63 193.55,186.63 191.79,187.91 192.46,189.99 190.70,188.71 188.94,189.99 189.61,187.91 187.85,186.63 190.03,186.63" fill="#ff1018" stroke="#ff1018" stroke-width="0.96"/><polygon points="193.60,175.40 194.27,177.47 196.45,177.47 194.69,178.75 195.36,180.83 193.60,179.55 191.84,180.83 192.51,178.75 190.75,177.47 192.93,177.47" fill="#ff1018" stroke="#ff1018" stroke-width="0.96"/><polygon points="197.00,166.24 197.67,168.31 199.85,168.31 198.09,169.59 198.76,171.67 197.00,170.39 195.24,171.67 195.91,169.59 194.15,168.31 196.33,168.31" fill="#ff1018" stroke="#ff1018" stroke-width="0.96"/><polygon points="201.30,157.08 201.97,159.15 204.15,159.15 202.39,160.43 203.06,162.51 201.30,161.23 199.54,162.51 200.21,160.43 198.45,159.15 200.63,159.15" fill="#ff1018" stroke="#ff1018" stroke-width="0.96"/><polygon points="208.00,147.92 208.67,149.99 210.85,149.99 209.09,151.27 209.76,153.35 208.00,152.07 206.24,153.35 206.91,151.27 205.15,149.99 207.33,149.99" fill="#ff1018" stroke="#ff1018" stroke-width="0.96"/><polygon points="211.00,138.76 211.67,140.83 213.85,140.83 212.09,142.11 212.76,144.19 211.00,142.91 209.24,144.19 209.91,142.11 208.15,140.83 210.33,140.83" fill="#ff1018" stroke="#ff1018" stroke-width="0.96"/><polygon points="215.00,129.60 215.67,131.67 217.85,131.67 216.09,132.95 216.76,135.03 215.00,133.75 213.24,135.03 213.91,132.95 212.15,131.67 214.33,131.67" fill="#ff1018" stroke="#ff1018" stroke-width="0.96"/><polygon points="221.00,120.44 221.67,122.51 223.85,122.51 222.09,123.79 222.76,125.87 221.00,124.59 219.24,125.87 219.91,123.79 218.15,122.51 220.33,122.51" fill="#ff1018" stroke="#ff1018" stroke-width="0.96"/><polygon points="225.60,111.28 226.27,113.35 228.45,113.35 226.69,114.63 227.36,116.71 225.60,115.43 223.84,116.71 224.51,114.63 222.75,113.35 224.93,113.35" fill="#ff1018" stroke="#ff1018" stroke-width="0.96"/><polygon points="231.00,102.12 231.67,104.19 233.85,104.19 232.09,105.47 232.76,107.55 231.00,106.27 229.24,107.55 229.91,105.47 228.15,104.19 230.33,104.19" fill="#ff1018" stroke="#ff1018" stroke-width="0.96"/><polygon points="238.00,92.96 238.67,95.03 240.85,95.03 239.09,96.31 239.76,98.39 238.00,97.11 236.24,98.39 236.91,96.31 235.15,95.03 237.33,95.03" fill="#ff1018" stroke="#ff1018" stroke-width="0.96"/><polygon points="241.00,83.80 241.67,85.87 243.85,85.87 242.09,87.15 242.76,89.23 241.00,87.95 239.24,89.23 239.91,87.15 238.15,85.87 240.33,85.87" fill="#ff1018" stroke="#ff1018" stroke-width="0.96"/><polygon points="247.00,74.64 247.67,76.71 249.85,76.71 248.09,77.99 248.76,80.07 247.00,78.79 245.24,80.07 245.91,77.99 244.15,76.71 246.33,76.71" fill="#ff1018" stroke="#ff1018" stroke-width="0.96"/><polygon points="255.00,65.48 255.67,67.55 257.85,67.55 256.09,68.83 256.76,70.91 255.00,69.63 253.24,70.91 253.91,68.83 252.15,67.55 254.33,67.55" fill="#ff1018" stroke="#ff1018" stroke-width="0.96"/><polygon points="261.60,56.32 262.27,58.39 264.45,58.39 262.69,59.67 263.36,61.75 261.60,60.47 259.84,61.75 260.51,59.67 258.75,58.39 260.93,58.39" fill="#ff1018" stroke="#ff1018" stroke-width="0.96"/><polygon points="269.40,47.16 270.07,49.23 272.25,49.23 270.49,50.51 271.16,52.59 269.40,51.31 267.64,52.59 268.31,50.51 266.55,49.23 268.73,49.23" fill="#ff1018" stroke="#ff1018" stroke-width="0.96"/><polygon points="286.00,38.00 286.67,40.07 288.85,40.07 287.09,41.35 287.76,43.43 286.00,42.15 284.24,43.43 284.91,41.35 283.15,40.07 285.33,40.07" fill="#ff1018" stroke="#ff1018" stroke-width="0.96"/><polygon points="297.00,28.84 297.67,30.91 299.85,30.91 298.09,32.19 298.76,34.27 297.00,32.99 295.24,34.27 295.91,32.19 294.15,30.91 296.33,30.91" fill="#ff1018" stroke="#ff1018" stroke-width="0.96"/><polygon points="334.40,19.68 335.07,21.75 337.25,21.75 335.49,23.03 336.16,25.11 334.40,23.83 332.64,25.11 333.31,23.03 331.55,21.75 333.73,21.75" fill="#ff1018" stroke="#ff1018" stroke-width="0.96"/></g>
</g>
<path d="M49.50 408.4v3.6M147.30 408.4v3.6M245.10 408.4v3.6M342.90 408.4v3.6M440.70 408.4v3.6M538.50 408.4v3.6M49.5 408.40h-3.6M49.5 368.80h-3.6M49.5 329.20h-3.6M49.5 289.60h-3.6M49.5 250.00h-3.6M49.5 210.40h-3.6M49.5 170.80h-3.6M49.5 131.20h-3.6M49.5 91.60h-3.6M49.5 52.00h-3.6M49.5 12.40h-3.6" stroke="#111" stroke-width="0.9" fill="none"/>
<rect x="49.5" y="12.4" width="489.0" height="396.0" fill="none" stroke="#111" stroke-width="1"/>
<g font-family="'Liberation Serif', 'Times New Roman', serif" font-size="12.2" fill="#000" stroke="#000" stroke-width="0.12">
<text x="49.50" y="424.4" text-anchor="middle">0</text>
<text x="147.30" y="424.4" text-anchor="middle">3</text>
<text x="245.10" y="424.4" text-anchor="middle">6</text>
<text x="342.90" y="424.4" text-anchor="middle">9</text>
<text x="440.70" y="424.4" text-anchor="middle">12</text>
<text x="538.50" y="424.4" text-anchor="middle">15</text>
<text x="41.5" y="412.30" text-anchor="end">0.0</text>
<text x="41.5" y="372.70" text-anchor="end">0.1</text>
<text x="41.5" y="333.10" text-anchor="end">0.2</text>
<text x="41.5" y="293.50" text-anchor="end">0.3</text>
<text x="41.5" y="253.90" text-anchor="end">0.4</text>
<text x="41.5" y="214.30" text-anchor="end">0.5</text>
<text x="41.5" y="174.70" text-anchor="end">0.6</text>
<text x="41.5" y="135.10" text-anchor="end">0.7</text>
<text x="41.5" y="95.50" text-anchor="end">0.8</text>
<text x="41.5" y="55.90" text-anchor="end">0.9</text>
<text x="41.5" y="16.30" text-anchor="end">1.0</text>
<text x="294.1" y="440.9" text-anchor="middle" font-size="13.2">Estimated Error /m</text>
<text transform="translate(17.2 211.3) rotate(-90)" text-anchor="middle" font-size="12.8">CDF</text>
</g>
<rect x="350.0" y="288.6" width="182.4" height="112.4" rx="2.2" ry="2.2" fill="#fff" fill-opacity="0.8" stroke="#cccccc" stroke-opacity="0.85" stroke-width="1"/>
<g font-family="'Liberation Serif', 'Times New Roman', serif" font-size="13" fill="#000" stroke="#000" stroke-width="0.12">
<path d="M353.9 298.10H357.9M359.9 298.10H364M365 298.10H370M371.4 298.10H375.3M377.2 298.10H380.9" stroke="#14bfcc" stroke-width="1.3" fill="none"/>
<path d="M365.02 295.73L369.77 300.48M365.02 300.48L369.77 295.73" stroke="#14bfcc" stroke-width="1.2" fill="none"/>
<text x="391.5" y="302.20">KNN</text>
<path d="M353.9 316.48H357.9M359.9 316.48H364M365 316.48H370M371.4 316.48H375.3M377.2 316.48H380.9" stroke="#a3562c" stroke-width="1.3" fill="none"/>
<path d="M367.40 313.16L369.39 316.48L367.40 319.81L365.40 316.48Z" stroke="#a3562c" stroke-width="1.2" fill="none" stroke-linejoin="miter"/>
<text x="391.5" y="320.58">DNN</text>
<path d="M353.9 334.86H357.9M359.9 334.86H364M365 334.86H370M371.4 334.86H375.3M377.2 334.86H380.9" stroke="#259a25" stroke-width="1.3" fill="none"/>
<circle cx="367.40" cy="334.86" r="2.47" stroke="#259a25" stroke-width="1.2" fill="none"/>
<text x="391.5" y="338.96">SGC</text>
<path d="M353.9 353.24H357.9M359.9 353.24H364M365 353.24H370M371.4 353.24H375.3M377.2 353.24H380.9" stroke="#1010ff" stroke-width="1.3" fill="none"/>
<path d="M367.40 351.06L369.58 355.43L365.21 355.43Z" stroke="#1010ff" stroke-width="1.2" fill="none"/>
<text x="391.5" y="357.34">GAT</text>
<path d="M353.9 371.62H357.9M359.9 371.62H364M365 371.62H370M371.4 371.62H375.3M377.2 371.62H380.9" stroke="#dda722" stroke-width="1.3" fill="none"/>
<rect x="365.26" y="369.48" width="4.27" height="4.27" stroke="#dda722" stroke-width="1.2" fill="none"/>
<text x="391.5" y="375.72">GraphSAGE-LSTM-edge</text>
<path d="M353.9 390.00H357.9M359.9 390.00H364M365 390.00H370M371.4 390.00H375.3M377.2 390.00H380.9" stroke="#ff1018" stroke-width="1.3" fill="none"/>
<polygon points="367.40,387.15 368.04,389.12 370.11,389.12 368.44,390.34 369.08,392.31 367.40,391.09 365.72,392.31 366.36,390.34 364.69,389.12 366.76,389.12" fill="#ff1018" stroke="#ff1018" stroke-width="0.96"/>
<text x="391.5" y="394.10">HoGNNLoc</text>
</g>
</svg>
</body></html>
